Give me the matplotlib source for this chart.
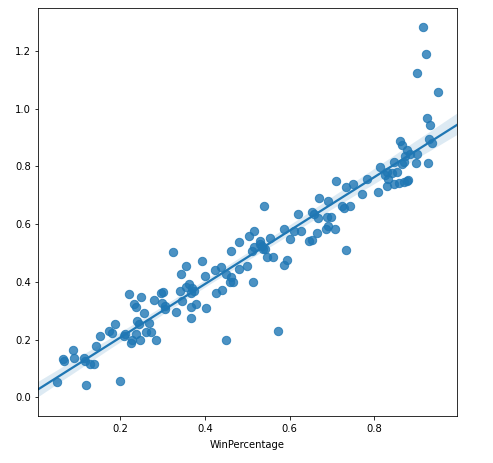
import numpy as np
import pandas as pd
import matplotlib
matplotlib.use('Agg')
import matplotlib.pyplot as plt
import seaborn as sns

# valores (WinPercentage vs. métrica)
win_pct = [
    0.050, 0.119, 0.199, 0.064, 0.066, 0.087, 0.089, 0.113, 0.117, 0.128,
    0.138, 0.142, 0.152, 0.172, 0.179, 0.187, 0.210, 0.208, 0.224, 0.228,
    0.237, 0.247, 0.221, 0.249, 0.232, 0.236, 0.255, 0.240, 0.244, 0.267,
    0.261, 0.273, 0.285, 0.279, 0.297, 0.299,
    0.325, 0.356, 0.393, 0.344, 0.354, 0.363, 0.370, 0.375, 0.367, 0.340,
    0.399, 0.423, 0.437, 0.449, 0.458, 0.466, 0.462, 0.427, 0.439, 0.481,
    0.499, 0.462, 0.481, 0.504, 0.513, 0.510, 0.517, 0.529, 0.537, 0.553,
    0.301, 0.305, 0.305, 0.332, 0.345, 0.368, 0.379, 0.368, 0.403, 0.450,
    0.573,
    0.539, 0.710, 0.670, 0.691, 0.619, 0.654, 0.658, 0.668, 0.723, 0.729,
    0.743, 0.734, 0.750, 0.771, 0.783, 0.810, 0.814, 0.826, 0.830, 0.688,
    0.699, 0.691, 0.707, 0.686, 0.664, 0.646, 0.652, 0.734, 0.586, 0.601,
    0.610, 0.628, 0.530, 0.534, 0.542, 0.546, 0.560, 0.594, 0.586, 0.517,
    0.862, 0.866, 0.877, 0.873, 0.885, 0.901, 0.866, 0.870, 0.899, 0.927,
    0.931, 0.937, 0.925, 0.933, 0.830, 0.842, 0.854, 0.834, 0.846, 0.858,
    0.870, 0.877, 0.881, 0.915, 0.922, 0.901, 0.951, 0.846,
]
valor = [
    0.053, 0.042, 0.056, 0.133, 0.125, 0.163, 0.137, 0.135, 0.125, 0.114,
    0.117, 0.178, 0.212, 0.230, 0.224, 0.255, 0.218, 0.212, 0.189, 0.200,
    0.220, 0.197, 0.359, 0.348, 0.322, 0.313, 0.293, 0.264, 0.255, 0.258,
    0.226, 0.226, 0.198, 0.337, 0.363, 0.328,
    0.502, 0.456, 0.473, 0.427, 0.383, 0.392, 0.380, 0.368, 0.363, 0.369,
    0.421, 0.441, 0.450, 0.427, 0.400, 0.398, 0.417, 0.363, 0.371, 0.444,
    0.456, 0.508, 0.537, 0.560, 0.398, 0.508, 0.520, 0.531, 0.513, 0.552,
    0.366, 0.317, 0.305, 0.297, 0.334, 0.313, 0.324, 0.274, 0.308, 0.200,
    0.230,
    0.664, 0.748, 0.690, 0.682, 0.635, 0.641, 0.635, 0.621, 0.664, 0.656,
    0.664, 0.728, 0.740, 0.705, 0.757, 0.711, 0.798, 0.769, 0.734, 0.624,
    0.626, 0.595, 0.583, 0.583, 0.568, 0.543, 0.545, 0.511, 0.583, 0.549,
    0.575, 0.575, 0.543, 0.525, 0.514, 0.487, 0.485, 0.475, 0.459, 0.576,
    0.887, 0.873, 0.858, 0.835, 0.844, 0.844, 0.809, 0.815, 0.811, 0.811,
    0.896, 0.881, 0.969, 0.945, 0.780, 0.777, 0.780, 0.757, 0.740, 0.742,
    0.745, 0.749, 0.754, 1.285, 1.190, 1.125, 1.059, 0.815,
]

df = pd.DataFrame({'WinPercentage': win_pct, 'valor': valor})

fig = plt.figure(figsize=(493 / 72, 463 / 72), dpi=72)
ax = fig.add_axes([38 / 493, 1 - 416 / 463, 419 / 493, 408 / 463])

sns.regplot(x='WinPercentage', y='valor', data=df, ax=ax, truncate=False,
            color='#1f77b4', scatter_kws={'s': 70, 'alpha': 0.8},
            line_kws={'linewidth': 2.25})
ax.set_ylabel('')
ax.set_xlabel('WinPercentage', fontsize=10, labelpad=5)
ax.tick_params(labelsize=10)
ax.tick_params(axis='x', pad=5)

fig.savefig('out.png', dpi=72)
